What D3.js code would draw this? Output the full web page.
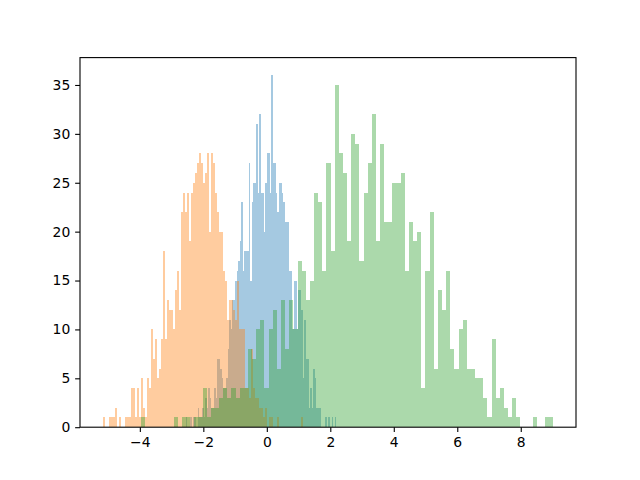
<!DOCTYPE html>
<html>
<head>
<meta charset="utf-8">
<script src="https://cdn.jsdelivr.net/npm/d3@7"></script>
<style>
  body { margin: 0; background: #fff; }
  svg { font-family: "DejaVu Sans", sans-serif; }
</style>
</head>
<body>
<div id="chart"></div>
<script>
// histogram ranges (first bin edge, last bin edge) and counts, 100 bins each
const blueRange = [-2.555, 2.18];
const blueCounts = [
  1, 0, 0, 1, 0, 1, 1, 0, 2, 1, 1, 2, 1, 3, 2, 4, 3, 2, 2, 4,
  3, 7, 7, 6, 5, 4, 4, 5, 8, 11, 10, 13, 13, 15, 16, 17, 19, 23, 16, 18,
  18, 18, 27, 15, 23, 25, 25, 31, 24, 32, 24, 24, 20, 25, 28, 28, 24, 36, 27, 27,
  24, 22, 25, 25, 24, 23, 21, 21, 21, 16, 16, 10, 15, 15, 10, 14, 14, 12, 5, 11,
  7, 7, 2, 4, 2, 6, 5, 2, 2, 2, 0, 0, 0, 1, 0, 1, 0, 1, 0, 1,
];

const orangeRange = [-5.175, 1.14];
const orangeCounts = [
  1, 0, 0, 1, 1, 1, 2, 0, 1, 0, 0, 1, 1, 1, 4, 4, 1, 4, 1, 5,
  2, 1, 5, 4, 10, 7, 9, 5, 6, 9, 18, 9, 13, 12, 12, 10, 14, 16, 12, 22,
  24, 22, 24, 19, 24, 25, 26, 27, 28, 27, 25, 26, 28, 20, 28, 27, 24, 22, 20, 20,
  16, 15, 11, 13, 13, 12, 11, 15, 10, 10, 10, 4, 4, 3, 8, 4, 3, 3, 2, 2,
  1, 2, 0, 1, 1, 0, 0, 1, 0, 0, 0, 0, 0, 0, 0, 0, 0, 0, 0, 1,
];

const greenRange = [-3.975, 9.03];
const greenCounts = [
  1, 0, 0, 0, 0, 0, 0, 0, 1, 0, 1, 1, 0, 1, 1, 4, 1, 2, 2, 3,
  4, 3, 4, 3, 4, 4, 8, 7, 10, 11, 4, 10, 12, 6, 13, 8, 13, 10, 17, 16,
  13, 15, 24, 23, 16, 27, 18, 35, 28, 26, 19, 30, 29, 17, 24, 27, 32, 19, 29, 21,
  21, 25, 25, 26, 16, 21, 19, 20, 4, 16, 22, 6, 14, 12, 16, 8, 6, 10, 11, 6,
  6, 5, 5, 3, 1, 9, 3, 4, 2, 1, 3, 1, 0, 0, 0, 1, 0, 0, 1, 1,
];

const xTicks = [-4, -2, 0, 2, 4, 6, 8];
const yTicks = [0, 5, 10, 15, 20, 25, 30, 35];

const width = 640;
const height = 480;
const margin = { top: 57.6, right: 64, bottom: 52.8, left: 80 };
const tickLen = 4.86;

// build bins: each bin index is mapped to its edge by a linear scale
function toBins(range, counts) {
  const edge = d3.scaleLinear().domain([0, counts.length]).range(range);
  return counts.map((c, i) => ({ x0: edge(i), x1: edge(i + 1), count: c }));
}

const series = [
  { color: "#1f77b4", bins: toBins(blueRange, blueCounts) },
  { color: "#ff7f0e", bins: toBins(orangeRange, orangeCounts) },
  { color: "#2ca02c", bins: toBins(greenRange, greenCounts) },
];

// matplotlib style 5% margins
const allEdges = series.flatMap((s) => s.bins.flatMap((b) => [b.x0, b.x1]));
const [xmin, xmax] = d3.extent(allEdges);
const xPad = (xmax - xmin) * 0.05;
const ymax = d3.max(series, (s) => d3.max(s.bins, (b) => b.count)) * 1.05;

const x = d3
  .scaleLinear()
  .domain([xmin - xPad, xmax + xPad])
  .range([margin.left, width - margin.right]);

const y = d3
  .scaleLinear()
  .domain([0, ymax])
  .range([height - margin.bottom, margin.top]);

const svg = d3
  .select("#chart")
  .append("svg")
  .attr("width", width)
  .attr("height", height)
  .attr("viewBox", [0, 0, width, height]);

const bars = svg.append("g").attr("class", "bars");

series.forEach((s) => {
  bars
    .append("g")
    .attr("fill", s.color)
    .attr("fill-opacity", 0.4)
    .attr("shape-rendering", "crispEdges")
    .selectAll("rect")
    .data(s.bins.filter((b) => b.count > 0))
    .join("rect")
    .attr("x", (d) => x(d.x0))
    .attr("width", (d) => x(d.x1) - x(d.x0))
    .attr("y", (d) => y(d.count))
    .attr("height", (d) => y(0) - y(d.count));
});

const fmt = (d) => (d < 0 ? "\u2212" + Math.abs(d) : String(d));

svg
  .append("g")
  .attr("transform", `translate(0,${height - margin.bottom})`)
  .call(
    d3.axisBottom(x).tickValues(xTicks).tickFormat(fmt)
      .tickSize(tickLen).tickPadding(tickLen)
  )
  .call((g) => g.select(".domain").remove())
  .call((g) => g.selectAll(".tick line").attr("stroke", "#000").attr("stroke-width", 1.1))
  .call((g) => g.selectAll(".tick text").attr("fill", "#000").attr("font-size", 13.9)
    .attr("font-family", "DejaVu Sans"));

svg
  .append("g")
  .attr("transform", `translate(${margin.left},0)`)
  .call(
    d3.axisLeft(y).tickValues(yTicks).tickFormat(fmt)
      .tickSize(tickLen).tickPadding(tickLen)
  )
  .call((g) => g.select(".domain").remove())
  .call((g) => g.selectAll(".tick line").attr("stroke", "#000").attr("stroke-width", 1.1))
  .call((g) => g.selectAll(".tick text").attr("fill", "#000").attr("font-size", 13.9)
    .attr("font-family", "DejaVu Sans"));

// axes frame
svg
  .append("rect")
  .attr("x", margin.left)
  .attr("y", margin.top)
  .attr("width", width - margin.left - margin.right)
  .attr("height", height - margin.top - margin.bottom)
  .attr("fill", "none")
  .attr("stroke", "#000")
  .attr("stroke-width", 1.1);
</script>
</body>
</html>
